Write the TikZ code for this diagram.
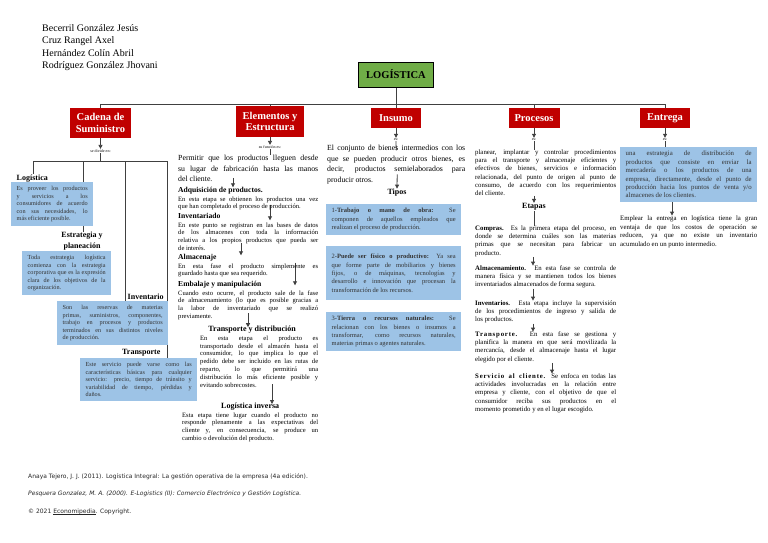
\documentclass[tikz,border=0pt]{standalone}
\usepackage{fontspec}
\setmainfont{Liberation Serif}
\newfontfamily\fuenteref{DejaVu Sans}
\newfontfamily\espaciada[LetterSpace=12]{Liberation Serif}
\usetikzlibrary{arrows.meta,backgrounds}

\definecolor{rojo}{RGB}{192,0,0}
\definecolor{verde}{RGB}{112,173,71}
\definecolor{azul}{RGB}{157,195,230}
\definecolor{gris}{RGB}{64,64,64}

\hyphenpenalty=10000
\tolerance=9999
\emergencystretch=4pt

% titulos dentro de los parrafos
\newcommand{\titetapa}[1]{{\fontsize{7.6}{9}\selectfont\bfseries #1\par}\vspace{0.6pt}}
\newcommand{\titcentro}[2]{{\centering\fontsize{8}{9}\selectfont\bfseries\hspace*{#1}#2\par}\vspace{0.6pt}}
% subrayado fino
\newcommand{\subrayado}[1]{\setbox0\hbox{#1}\rlap{\rule[-0.9pt]{\wd0}{0.35pt}}\box0}

\tikzset{
  autores/.style={anchor=north west, align=left, inner sep=0pt, font=\fontsize{10}{12.6}\selectfont},
  titulo/.style={fill=rojo, text=white, align=center, inner sep=2pt, font=\fontsize{10.5}{11.5}\selectfont\bfseries},
  raiz/.style={fill=verde, draw=black, line width=0.8pt, minimum width=75pt, minimum height=25pt, font=\fontsize{10.5}{12}\selectfont\bfseries},
  linea/.style={draw=gris, line width=0.8pt},
  flecha/.style={linea, -{Triangle[length=4pt,width=4pt]}},
  mini/.style={inner sep=0.5pt, font=\fontsize{4}{5}\selectfont},
  subtit/.style={inner sep=0.5pt, font=\fontsize{8}{11}\selectfont\bfseries},
  caja/.style={fill=azul, anchor=north west, align=justify, inner xsep=5.5pt, inner ysep=4pt, text=black!80, font=\fontsize{6.2}{7.6}\selectfont},
  cajains/.style={caja, text width=124pt, font=\fontsize{6.5}{8.3}\selectfont},
  parrafo/.style={anchor=north west, align=justify, inner sep=0pt, font=\fontsize{7.8}{10.5}\selectfont},
  etapa/.style={anchor=north west, align=justify, inner sep=0pt, text width=140pt, font=\fontsize{6.6}{7.8}\selectfont},
  paso/.style={anchor=north west, align=justify, inner sep=0pt, text width=141pt, font=\fontsize{6.8}{8.2}\selectfont},
  referencia/.style={anchor=west, inner sep=0pt, text=black!85, font=\fuenteref\fontsize{6}{7}\selectfont}
}

\begin{document}
\begin{tikzpicture}[x=1pt, y=-1pt]
  \useasboundingbox (0,0) rectangle (768,543);

  % Autores
  \node[autores] (autores) at (42,24) {Becerril González Jesús\\Cruz Rangel Axel\\Hernández Colín Abril\\Rodríguez González Jhovani};

  % Titulos
  \node[raiz] (logistica) at (396,74.5) {LOGÍSTICA};
  \node[titulo, minimum width=61pt, minimum height=30pt] (cadena) at (100.5,123) {Cadena de\\Suministro};
  \node[titulo, minimum width=68pt, minimum height=31pt] (elementos) at (270,121.5) {Elementos y\\Estructura};
  \node[titulo, minimum width=50pt, minimum height=20pt] (insumo) at (396,118) {Insumo};
  \node[titulo, minimum width=51pt, minimum height=20pt] (procesos) at (534,118) {Procesos};
  \node[titulo, minimum width=50pt, minimum height=20pt] (entrega) at (665,118) {Entrega};

  % Cadena de suministro
  \node[mini] (divide) at (100.5,151) {se divide en:};
  \node[subtit, anchor=west] (logtit) at (16,178.5) {Logística};
  \node[caja, text width=71pt] (logbox) at (11,182) {Es proveer los productos\linebreak y servicios a los\linebreak consumidores de acuerdo\linebreak con sus necesidades, lo\linebreak más eficiente posible.};
  \node[subtit, align=center] (estrtit) at (82,241.5) {Estrategia y\\planeación};
  \node[caja, text width=78pt] (estrbox) at (22,251) {Toda estrategia logística\linebreak comienza con la estrategia\linebreak corporativa que es la expresión\linebreak clara de los objetivos de la\linebreak organización.};
  \node[subtit, anchor=west] (invtit) at (127,297) {Inventario};
  \node[caja, text width=100pt] (invbox) at (57,301) {Son las reservas de materias\linebreak primas, suministros, componentes,\linebreak trabajo en procesos y productos\linebreak terminados en sus distintos niveles\linebreak de producción.};
  \node[subtit, anchor=east] (transtit) at (161,353) {Transporte};
  \node[caja, text width=106pt] (transbox) at (80,358) {Este servicio puede varse como las\linebreak características básicas para cualquier\linebreak servicio: precio, tiempo de tránsito y\linebreak variabilidad de tiempo, pérdidas y\linebreak daños.};

  % Elementos y estructura
  \node[mini] (funcion) at (270,147) {su función es:};
  \node[parrafo, text width=140pt] (permitir) at (178,155) {Permitir que los productos lleguen desde\linebreak su lugar de fabricación hasta las manos\linebreak del cliente.};
  \node[etapa] (adq) at (178,187.3) {\titetapa{Adquisición de productos.}En esta etapa se obtienen los productos una vez\linebreak que han completado el proceso de producción.};
  \node[etapa] (inv) at (178,213.3) {\titetapa{Inventariado}En este punto se registran en las bases de datos\linebreak de los almacenes con toda la información\linebreak relativa a los propios productos que pueda ser\linebreak de interés.};
  \node[etapa] (alm) at (178,254.3) {\titetapa{Almacenaje}En esta fase el producto simplemente es\linebreak guardado hasta que sea requerido.};
  \node[etapa] (emb) at (178,281.3) {\titetapa{Embalaje y manipulación}Cuando esto ocurre, el producto sale de la fase\linebreak de almacenamiento (lo que es posible gracias a\linebreak la labor de inventariado que se realizó\linebreak previamente.};
  \node[etapa, text width=118pt] (trd) at (200,326.2) {\titcentro{-14pt}{Transporte y distribución}En esta etapa el producto es\linebreak transportado desde el almacén hasta el\linebreak consumidor, lo que implica lo que el\linebreak pedido debe ser incluido en las rutas de\linebreak reparto, lo que permitirá una\linebreak distribución lo más eficiente posible y\linebreak evitando sobrecostes.};
  \node[etapa, text width=136pt] (inversa) at (182,403) {\titcentro{0pt}{Logística inversa}Esta etapa tiene lugar cuando el producto no\linebreak responde plenamente a las expectativas del\linebreak cliente y, en consecuencia, se produce un\linebreak cambio o devolución del producto.};

  % Insumo
  \node[mini] (esins) at (396,139.5) {es:};
  \node[parrafo, text width=138pt] (conj) at (327,145.3) {El conjunto de bienes intermedios con los\linebreak que se pueden producir otros bienes, es\linebreak decir, productos semielaborados para\linebreak producir otros.};
  \node[subtit] (tipos) at (397,193) {Tipos};
  \node[cajains] (tipo1) at (326,204) {1-\textbf{Trabajo o mano de obra:} Se\linebreak componen de aquellos empleados que\linebreak realizan el proceso de producción.};
  \node[cajains, minimum height=54pt] (tipo2) at (326,246) {2-\textbf{Puede ser físico o productivo:} Ya sea\linebreak que forme parte de mobiliarios y bienes\linebreak fijos, o de máquinas, tecnologías y\linebreak desarrollo e innovación que procesan la\linebreak transformación de los recursos.};
  \node[cajains] (tipo3) at (326,312) {3-\textbf{Tierra o recursos naturales:} Se\linebreak relacionan con los bienes o insumos a\linebreak transformar, como recursos naturales,\linebreak materias primas o agentes naturales.};

  % Procesos
  \node[mini] (espro) at (534,139.5) {es:};
  \node[paso] (plan) at (475,149.6) {planear, implantar y controlar procedimientos\linebreak para el transporte y almacenaje eficientes y\linebreak efectivos de bienes, servicios e información\linebreak relacionada, del punto de origen al punto de\linebreak consumo, de acuerdo con los requerimientos\linebreak del cliente.};
  \node[subtit] (etapas) at (534,207) {Etapas};
  \node[paso] (compras) at (475,225.6) {\textbf{Compras.} Es la primera etapa del proceso, en\linebreak donde se determina cuáles son las materias\linebreak primas que se necesitan para fabricar un\linebreak producto.};
  \node[paso] (almac) at (475,265.6) {\textbf{Almacenamiento.} En esta fase se controla de\linebreak manera física y se mantienen todos los bienes\linebreak inventariados almacenados de forma segura.};
  \node[paso] (invent) at (475,300.6) {\textbf{Inventarios.} Esta etapa incluye la supervisión\linebreak de los procedimientos de ingreso y salida de\linebreak los productos.};
  \node[paso] (transp) at (475,331.6) {{\espaciada\bfseries Transporte.} En esta fase se gestiona y\linebreak planifica la manera en que será movilizada la\linebreak mercancía, desde el almacenaje hasta el lugar\linebreak elegido por el cliente.};
  \node[paso] (serv) at (475,373.6) {{\espaciada\bfseries Servicio al cliente.} Se enfoca en todas las\linebreak actividades involucradas en la relación entre\linebreak empresa y cliente, con el objetivo de que el\linebreak consumidor reciba sus productos en el\linebreak momento prometido y en el lugar escogido.};

  % Entrega
  \node[mini] (esent) at (665,139.5) {es:};
  \node[caja, text width=126pt, font=\fontsize{6.8}{8.4}\selectfont] (entbox) at (620,147) {una estrategia de distribución de\linebreak productos que consiste en enviar la\linebreak mercadería o los productos de una\linebreak empresa, directamente, desde el punto de\linebreak producción hacia los puntos de venta y/o\linebreak almacenes de los clientes.};
  \node[paso, text width=137pt, font=\fontsize{6.8}{8.6}\selectfont] (emplear) at (620,215.6) {Emplear la entrega en logística tiene la gran\linebreak ventaja de que los costos de operación se\linebreak reducen, ya que no existe un inventario\linebreak acumulado en un punto intermedio.};

  % Referencias
  \node[referencia] (ref1) at (28,477) {Anaya Tejero, J. J. (2011). Logística Integral: La gestión operativa de la empresa (4a edición).};
  \node[referencia, font=\fuenteref\itshape\fontsize{6}{7}\selectfont] (ref2) at (28,494) {Pesquera Gonzalez, M. A. (2000). E-Logistics (II): Comercio Electrónico y Gestión Logística.};
  \node[referencia] (ref3) at (28,512) {© 2021 \subrayado{Economipedia}. Copyright.};

  % Conectores
  \coordinate (barra) at (396,104);
  \coordinate (r1) at (33,161);
  \coordinate (r2) at (83,161);
  \coordinate (r3) at (125,161);
  \coordinate (r4) at (167,161);
  \coordinate (eje) at (533,0);
  \coordinate (eje2) at (552,0);
  \coordinate (eje3) at (672,0);

  \begin{scope}[on background layer]
    \draw[linea] (cadena.north) -- (cadena.north |- barra) -- (entrega.north |- barra) -- (entrega.north);
    \draw[linea] (elementos.north) -- (elementos.north |- barra);
    \draw[linea] (procesos.north) -- (procesos.north |- barra);
    \draw[linea] (logistica) -- (insumo);

    % rama de la cadena
    \draw[flecha] (cadena.south -| divide) -- (divide.north);
    \draw[linea] (divide.south) -- (divide.south |- r1);
    \draw[linea] (r1) -- (r4);
    \draw[linea] (r1) -- (r1 |- logtit.north);
    \draw[linea] (r2) -- (r2 |- estrtit.north);
    \draw[linea] (r3) -- (r3 |- invtit.south);
    \draw[linea] (r4) -- (r4 |- transbox.north);

    % elementos
    \draw[flecha] (elementos.south) -- (funcion.north);
    \draw[linea] (funcion.south) -- (funcion.south |- permitir.north);
    \draw[flecha] ([xshift=55pt,yshift=4pt]permitir.south west) -- ([xshift=55pt]adq.north west);
    \draw[flecha] ([xshift=92pt,yshift=6pt]adq.south west) -- ([xshift=92pt,yshift=-7pt]inv.north west);
    \draw[flecha] ([xshift=63pt,yshift=8pt]inv.south west) -- ([xshift=63pt,yshift=-1pt]alm.north west);
    \draw[flecha] ([xshift=117pt,yshift=15pt]alm.south west) -- ([xshift=117pt,yshift=-4pt]emb.north west);
    \draw[flecha] ([xshift=70pt,yshift=7pt]emb.south west) -- ([xshift=48pt,yshift=-1pt]trd.north west);
    \draw[flecha] ([xshift=72pt,yshift=3pt]trd.south west) -- ([xshift=90pt,yshift=-1pt]inversa.north west);

    % insumo
    \draw[flecha] (insumo) -- (esins);
    \draw[linea] (esins.south) -- ([yshift=-5pt]conj.north);
    \draw[flecha] ([xshift=1pt,yshift=10pt]conj.south) -- (tipos.north);

    % procesos
    \draw[flecha] (procesos) -- (espro);
    \draw[linea] (espro.south) -- (espro.south |- plan.north);
    \draw[flecha] (plan.south -| etapas) -- (etapas);
    \draw[linea] (etapas) -- (etapas |- compras.north);
    \draw[flecha] (compras.south -| eje) -- (almac.north -| eje);
    \draw[flecha] (almac.south -| eje) -- (invent.north -| eje);
    \draw[flecha] (invent.south -| eje) -- (transp.north -| eje);
    \draw[flecha] (transp.south -| eje2) -- (serv.north -| eje2);

    % entrega
    \draw[flecha] (entrega) -- (esent);
    \draw[linea] (esent) -- (esent |- entbox.north);
    \draw[flecha] (entbox.south -| eje3) -- (emplear.north -| eje3);
  \end{scope}

\end{tikzpicture}
\end{document}
